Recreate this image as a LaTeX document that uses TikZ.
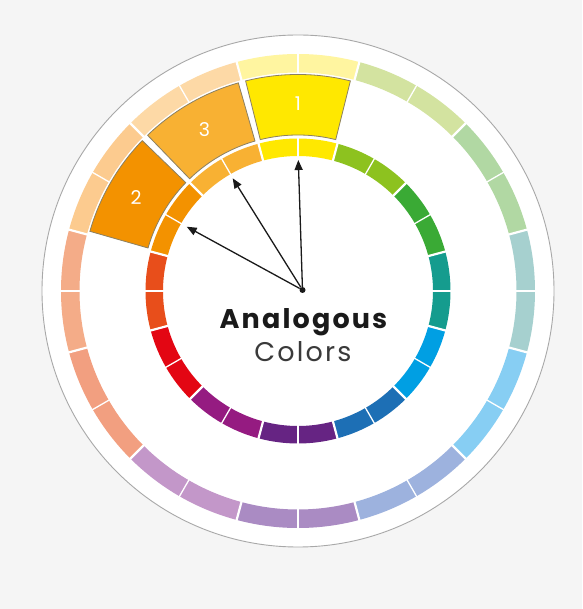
\documentclass[tikz,border=0pt]{standalone}
\usepackage{fontspec}
\setmainfont{Poppins}
\usetikzlibrary{arrows.meta}
% full hues (inner ring) and their tints (outer ring)
\definecolor{hA}{HTML}{FFE800}\definecolor{pA}{HTML}{FFF5A0}
\definecolor{hB}{HTML}{8DC21F}\definecolor{pB}{HTML}{D3E3A0}
\definecolor{hC}{HTML}{3AAA35}\definecolor{pC}{HTML}{B1D8A3}
\definecolor{hD}{HTML}{159C8E}\definecolor{pD}{HTML}{A6D0CF}
\definecolor{hE}{HTML}{009FE3}\definecolor{pE}{HTML}{87CEF3}
\definecolor{hF}{HTML}{1D6FB5}\definecolor{pF}{HTML}{9DB2DE}
\definecolor{hG}{HTML}{662483}\definecolor{pG}{HTML}{AA8BC3}
\definecolor{hH}{HTML}{951B81}\definecolor{pH}{HTML}{C397C9}
\definecolor{hI}{HTML}{E30613}\definecolor{pI}{HTML}{F29F80}
\definecolor{hJ}{HTML}{E84E1B}\definecolor{pJ}{HTML}{F4AC88}
\definecolor{hK}{HTML}{F39200}\definecolor{pK}{HTML}{FCCB8F}
\definecolor{hL}{HTML}{F8B133}\definecolor{pL}{HTML}{FDD9A6}
\definecolor{backdrop}{HTML}{F5F5F5}
\definecolor{rim}{HTML}{A8A8A8}
\definecolor{edge}{HTML}{8C8060}
\definecolor{ink}{HTML}{1A1A1A}
\definecolor{softink}{HTML}{3A3A3A}
\newcommand{\sector}[5]{% colour, from, to, inner, outer
  \path[#1] (#2:#4pt) arc[start angle=#2, end angle=#3, radius=#4pt]
    -- (#3:#5pt) arc[start angle=#3, end angle=#2, radius=#5pt] -- cycle;}
\tikzset{
  split/.style={white, line width=#1},
  pointer/.style={draw=ink, line width=1.3pt, -{Triangle[length=10pt,width=8pt]}},
  hub/.style={circle, fill=ink, inner sep=0pt, minimum size=6pt},
  number/.style={text=white, font=\fontsize{19}{19}\selectfont}
}

\begin{document}
\begin{tikzpicture}[x=1pt,y=1pt]
  \fill[backdrop] (-298,-318) rectangle (284,291);
  \draw[rim, fill=white, line width=0.9pt] (0,0) circle[radius=256pt];
  % both rings, each hue split in two halves
  \foreach \c [count=\i from 0] in {A,B,C,D,E,F,G,H,I,J,K,L} {
    \pgfmathsetmacro{\a}{105-30*\i}
    \pgfmathsetmacro{\b}{75-30*\i}
    \sector{fill=h\c}{\a}{\b}{135}{152.5}
    \sector{fill=p\c}{\a}{\b}{218.5}{237}
  }
  \foreach \a in {75,105,...,405} {
    \draw[split=2.2pt] (\a:133pt) -- (\a:154pt) (\a:217pt) -- (\a:239pt);
  }
  \foreach \a in {90,120,...,420} {
    \draw[split=1.3pt] (\a:133pt) -- (\a:154pt) (\a:217pt) -- (\a:239pt);
  }
  % the three picked hues
  \foreach \a/\c/\n in {76/hA/1, 106/hL/3, 136/hK/2} {
    \sector{fill=\c, draw=edge, line width=0.8pt}{\a}{\a+28}{156}{216.5}
    \node[number] (num\n) at ({\a+14}:187pt) {\n};
  }
  \node[hub] (hub) at (4.5,1) {};
  \coordinate (tip1) at (0.3,131);
  \coordinate (tip3) at (-65.3,112.7);
  \coordinate (tip2) at (-111.3,64.3);
  \draw[pointer] (hub) -- (tip1);
  \draw[pointer] (hub) -- (tip3);
  \draw[pointer] (hub) -- (tip2);
  \node[anchor=base, text=ink, font=\bfseries\fontsize{27}{27}\selectfont\addfontfeatures{LetterSpace=8}] (title) at (5.5,-37.3) {Analogous};
  \node[anchor=base, text=softink, font=\fontsize{27}{27}\selectfont\addfontfeatures{LetterSpace=8}] (subtitle) at (5,-70.7) {Colors};
\end{tikzpicture}
\end{document}
